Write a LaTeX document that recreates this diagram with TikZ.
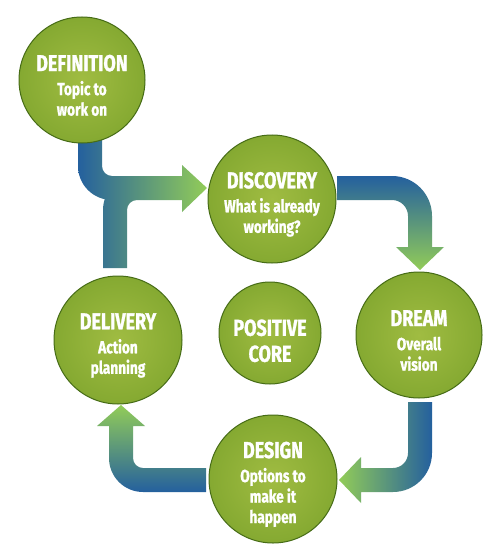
\documentclass[tikz,border=0pt]{standalone}
\usepackage{fontspec}
\setmainfont{Fira Sans}[FakeStretch=0.78, BoldFeatures={FakeBold=1.2}]
\definecolor{arrowblue}{RGB}{36,96,158}
\definecolor{arrowgreen}{RGB}{146,204,88}
\definecolor{discin}{RGB}{160,188,66}
\definecolor{discmid}{RGB}{134,170,50}
\definecolor{discout}{RGB}{100,142,36}
\definecolor{discrim}{RGB}{70,108,22}
\pgfdeclareradialshading{discshade}{\pgfpoint{0bp}{0bp}}{color(0bp)=(discin); color(24bp)=(discmid); color(42bp)=(discout); color(45.5bp)=(discmid); color(48bp)=(discrim); color(50bp)=(discrim)}
\newcommand{\phasename}[1]{\rule{0pt}{27pt}{\fontsize{23}{24}\selectfont #1}\\[3.5pt]}
\tikzset{
  phase/.style={circle, shade, shading=discshade, draw=discrim, line width=1pt,
    minimum size=128pt, inner sep=0pt, text=white, align=center,
    font=\fontsize{17.5}{20.5}\selectfont\bfseries},
}
\begin{document}
\begin{tikzpicture}[x=1pt, y=-1pt]
        \fill[white] (0,0) rectangle (500,559);
        \useasboundingbox (0,0) rectangle (500,559);

        % bands
        \shade[left color=arrowblue, right color=arrowgreen]
            (102,120) -- (102,166) arc[start angle=180, end angle=90, radius=10]
            -- (182,176) -- (182,200) -- (112,200) arc[start angle=90, end angle=180, radius=34]
            -- (78,120) -- cycle
            (103,268) -- (103,210) arc[start angle=180, end angle=270, radius=34]
            -- (182,176) -- (182,165) -- (207,188) -- (182,212) -- (182,200)
            -- (137,200) arc[start angle=270, end angle=180, radius=10] -- (127,268) -- cycle;
        \shade[top color=arrowblue, bottom color=arrowgreen]
            (337,176) -- (392,176) arc[start angle=270, end angle=360, radius=40]
            -- (432,247) -- (444,247) -- (420,270) -- (396,247) -- (408,247)
            -- (408,216) arc[start angle=0, end angle=-90, radius=16] -- (337,200) -- cycle;
        \shade[left color=arrowgreen, right color=arrowblue]
            (408,402) -- (432,402) -- (432,453) arc[start angle=0, end angle=90, radius=39]
            -- (361,492) -- (361,503) -- (339,480) -- (361,457) -- (361,468)
            -- (393,468) arc[start angle=90, end angle=0, radius=15] -- cycle;
        \shade[top color=arrowgreen, bottom color=arrowblue]
            (206,468) -- (206,492) -- (143,492) arc[start angle=90, end angle=180, radius=34]
            -- (109,426) -- (97,426) -- (121,405) -- (145,426) -- (133,426)
            -- (133,458) arc[start angle=180, end angle=90, radius=10] -- cycle;

        % phases
        \node[phase, minimum size=126pt] (def) at (82,80) {\phasename{DEFINITION}Topic to\\work on};
        \node[phase] (disc) at (272,199) {\phasename{DISCOVERY}What is already\\working?};
        \node[phase, minimum size=126pt] (dream) at (419,335) {\phasename{DREAM}Overall\\vision};
        \node[phase] (design) at (273,479) {\phasename{DESIGN}Options to\\make it\\happen};
        \node[phase] (deliv) at (118,340) {\phasename{DELIVERY}Action\\planning};
        \node[phase, minimum size=102pt, font=\fontsize{23}{26}\selectfont\bfseries] (core) at (270,333) {\rule{0pt}{32pt}POSITIVE\\CORE};
    \end{tikzpicture}
\end{document}
